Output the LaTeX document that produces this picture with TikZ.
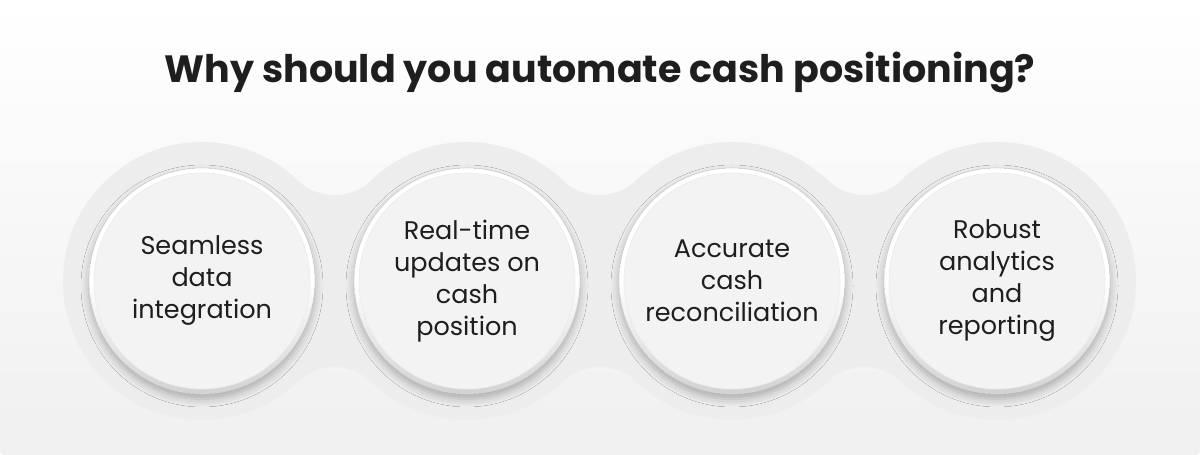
\documentclass[tikz,border=0pt]{standalone}
\usepackage{fontspec}
\setmainfont{Poppins}
\usetikzlibrary{shadows.blur,calc}

\definecolor{ink}{HTML}{1E1E1E}
\definecolor{blobgray}{HTML}{EDEDED}
\definecolor{discgray}{HTML}{F3F3F3}
\definecolor{rimgray}{HTML}{D2D2D2}

\tikzset{
  reason/.style={circle, minimum size=216pt, inner sep=0pt, fill=discgray,
    draw=rimgray!45, line width=0.6pt, align=center, text=ink,
    font=\fontsize{25.5}{32}\selectfont},
  rim/.style={top color=white, bottom color=rimgray, middle color=white, draw=rimgray!80, line width=0.6pt,
    blur shadow={shadow xshift=0pt, shadow yshift=-5pt, shadow blur radius=8pt, shadow opacity=28}},
  blob/.style={fill=blobgray}
}

\begin{document}
\begin{tikzpicture}[x=1pt, y=1pt]

  % Background
  \shade[top color=white, bottom color=black!6, rounded corners=4pt] (0,0) rectangle (1200,455);
  \useasboundingbox (0,0) rectangle (1200,455);

  % Title
  \node (title) [anchor=base, text=ink, font=\bfseries\fontsize{38}{44}\selectfont]
    at (600,372) {Why should you automate cash positioning?};

  % Backdrop: four discs joined by filleted bridges
  \foreach \x in {202,467,732,997}
    \fill[blob] (\x,174) circle (139);
  \foreach \m in {334.5,599.5,864.5}
    \fill[blob] (\m,314.4) ++(226.5:54.4) arc[start angle=226.5, end angle=313.5, radius=54.4]
      -- ($(\m,33.6)+(46.5:54.4)$) arc[start angle=46.5, end angle=133.5, radius=54.4] -- cycle;

  % Reasons
  \foreach \x/\name/\txt in {202/seamless/{Seamless\\data\\integration},
      467/realtime/{Real-time\\updates on\\cash\\position},
      732/accurate/{Accurate\\cash\\reconciliation},
      997/robust/{Robust\\analytics\\and\\reporting}}
  {
    \fill[rim] (\x,174) circle (113);
    \node (\name) [reason] at (\x,174) {\txt};
  }

\end{tikzpicture}
\end{document}
